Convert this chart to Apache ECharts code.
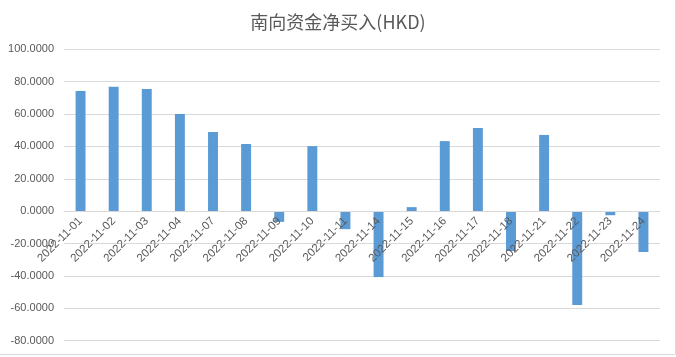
<!DOCTYPE html>
<html>
<head>
<meta charset="utf-8">
<script src="https://cdn.jsdelivr.net/npm/echarts@6/dist/echarts.min.js"></script>
<style>html,body{margin:0;padding:0;background:#fff;}#c{width:676px;height:357px;}</style>
</head>
<body>
<div id="c"></div>
<script>
const titleText = '南向资金净买入(HKD)';
const categories = ['2022-11-01','2022-11-02','2022-11-03','2022-11-04','2022-11-07','2022-11-08','2022-11-09','2022-11-10','2022-11-11','2022-11-14','2022-11-15','2022-11-16','2022-11-17','2022-11-18','2022-11-21','2022-11-22','2022-11-23','2022-11-24'];
const values = [74.3, 76.8, 75.5, 60.1, 48.9, 41.5, -6.6, 40.2, -11.1, -40.7, 2.5, 43.3, 51.4, -24.6, 47.1, -58.0, -2.5, -25.2];
const yMin = -80, yMax = 100, yStep = 20;

const gridTop = 49.3, gridBottom = 340.7;
const zeroY = gridTop + (gridBottom - gridTop) * (yMax - 0) / (yMax - yMin);

const chart = echarts.init(document.getElementById('c'));
chart.setOption({
  animation: false,
  backgroundColor: '#ffffff',
  title: {
    text: titleText, left: 'center', top: 8,
    textStyle: {fontFamily: 'Noto Sans CJK SC', fontSize: 18, fontWeight: 'normal', color: '#595959'}
  },
  grid: {left: 64, right: 16, top: gridTop, bottom: 357 - gridBottom, containLabel: false, outerBoundsMode: 'none'},
  xAxis: {
    type: 'category', data: categories, position: 'bottom', z: 5,
    offset: -(gridBottom - zeroY),
    axisLine: {show: true, onZero: false, lineStyle: {color: '#d9d9d9'}},
    axisTick: {show: false},
    axisLabel: {rotate: 45, interval: 0, margin: 8, fontSize: 11.5, color: '#595959', fontFamily: 'Liberation Sans'}
  },
  yAxis: {
    type: 'value', min: yMin, max: yMax, interval: yStep,
    axisLine: {show: false}, axisTick: {show: false},
    axisLabel: {fontSize: 11, color: '#595959', margin: 10, fontFamily: 'Liberation Sans', formatter: v => v.toFixed(4)},
    splitLine: {lineStyle: {color: '#d9d9d9'}}
  },
  series: [{
    type: 'bar', data: values, barWidth: '30%', z: 2,
    itemStyle: {color: '#5b9bd5'}
  }],
  graphic: [
    {type: 'line', shape: {x1: 0, y1: 354.5, x2: 675.5, y2: 354.5}, style: {stroke: '#d9d9d9', lineWidth: 1}},
    {type: 'line', shape: {x1: 675.5, y1: 0, x2: 675.5, y2: 354.5}, style: {stroke: '#d9d9d9', lineWidth: 1}}
  ]
});
</script>
</body>
</html>
